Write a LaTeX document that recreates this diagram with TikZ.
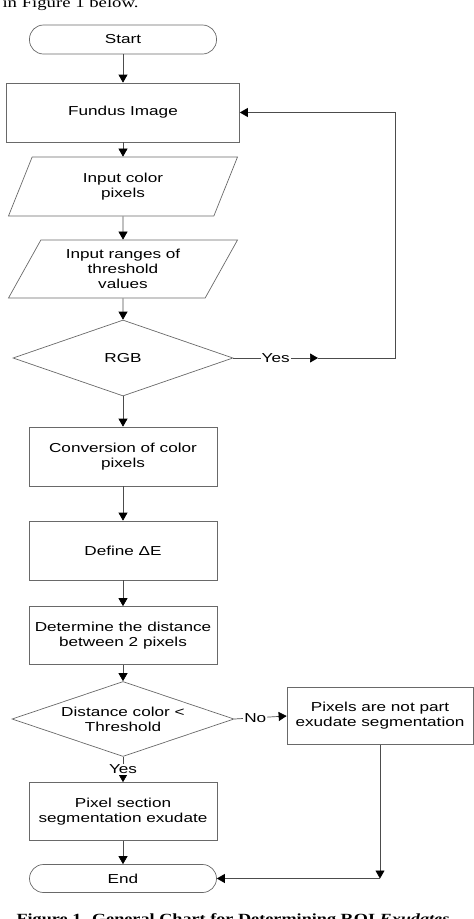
\documentclass[tikz,border=0pt]{standalone}
\usepackage{fontspec}
\setmainfont{Liberation Sans}[FakeStretch=1.32]
\newfontfamily\pagefont{Liberation Serif}[FakeStretch=1.3]
\usetikzlibrary{shapes.geometric, arrows.meta, positioning}
\definecolor{edgegray}{RGB}{105,105,105}

\begin{document}
\begin{tikzpicture}[node distance=85pt,
  font=\fontsize{13}{15}\selectfont,
  term/.style={draw=edgegray, line width=0.7pt, rounded corners=14pt, minimum width=187pt, minimum height=29pt},
  proc/.style={draw=edgegray, line width=0.7pt, minimum width=188pt, minimum height=59pt, align=center, inner sep=2pt},
  io/.style={trapezium, trapezium left angle=55, trapezium right angle=125, trapezium stretches body,
    draw=edgegray, line width=0.7pt, minimum width=229pt, minimum height=59pt, align=center},
  decide/.style={diamond, aspect=2.9, draw=edgegray, line width=0.7pt, minimum width=220pt, minimum height=76pt, inner sep=0pt, align=center},
  arr/.style={draw=black!70, line width=0.7pt, -{Triangle[length=8pt, width=9pt, color=black]}},
  lbl/.style={fill=white, inner sep=1pt}]
\useasboundingbox (0,0) rectangle (474pt,-919pt);

\node (intro) [anchor=base west, font=\pagefont\fontsize{14.4}{16}\selectfont] at (-1pt,-7pt) {in Figure 1 below.};

\node (start) [term] at (123pt,-39.5pt) {Start};
\node (fundus) [proc, below of=start, yshift=12pt, minimum width=233pt] {Fundus Image};
\node (inpix) [io, below of=fundus, yshift=11pt] {Input color\\pixels};
\node (inrange) [io, below of=inpix, yshift=2.5pt, minimum height=58pt] {Input ranges of\\threshold\\values};
\node (rgb) [decide, below of=inrange, yshift=-4pt] {RGB};
\node (conv) [proc, below of=rgb, yshift=-13.5pt] {Conversion of color\\pixels};
\node (defe) [proc, below of=conv, yshift=-9pt] {Define ΔE};
\node (dist) [proc, below of=defe, minimum height=58pt] {Determine the distance\\between 2 pixels};
\node (thr) [decide, below of=dist, yshift=1.5pt, minimum width=222pt, minimum height=75pt] {Distance color <\\Threshold};
\node (notpart) [proc, right of=thr, xshift=172pt, yshift=3pt, minimum width=186pt, minimum height=57pt] {Pixels are not part\\exudate segmentation};
\node (pixsec) [proc, below of=thr, yshift=-7.5pt, minimum height=58pt] {Pixel section\\segmentation exudate};
\node (end) [term, below of=pixsec, yshift=18pt, minimum height=28pt] {End};

\node (caption) [anchor=base west, font=\pagefont\bfseries\fontsize{14}{16}\selectfont] at (13pt,-923pt)
  {Figure 1. General Chart for Determining ROI \textit{Exudates}};

% main line
\draw[arr] (start) -- (fundus);
\draw[arr] (fundus) -- (inpix);
\draw[arr] (inpix) -- (inrange);
\draw[arr] (inrange) -- (rgb);
\draw[arr] (rgb) -- (conv);
\draw[arr] (conv) -- (defe);
\draw[arr] (defe) -- (dist);
\draw[arr] (dist) -- (thr);

% loop back to the image
\coordinate (yesmark) at (318pt,-358pt);
\coordinate (loopback) at (395pt,-112.5pt);
\draw[arr] (rgb.east) -- node[lbl] {Yes} (yesmark);
\draw[arr] (yesmark) -| (loopback) -- (fundus.east);

% threshold test
\draw[arr] (thr.east) -- node[lbl, pos=0.4] {No} (notpart.west);
\draw[arr] (thr.south) -- node[lbl] {Yes} (pixsec.north);
\draw[arr] (pixsec) -- (end);
\coordinate (corner) at (notpart.south |- end.east);
\draw[arr] (notpart) -- (corner);
\draw[arr] (corner) -- (end.east);
\end{tikzpicture}
\end{document}
